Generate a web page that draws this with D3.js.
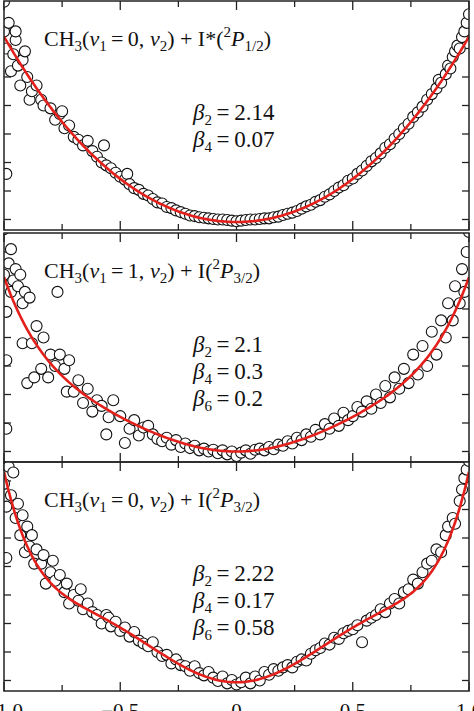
<!DOCTYPE html>
<html>
<head>
<meta charset="utf-8">
<script src="https://cdn.jsdelivr.net/npm/d3@7"></script>
<style>
  body { margin: 0; background: #fff; }
  text { font-family: "Liberation Serif", "Times New Roman", "DejaVu Serif", serif; }
</style>
</head>
<body>
<svg id="chart" width="474" height="711"></svg>
<script>
// x ticks (cos theta)
const xTicks = [-1, -0.5, 0, 0.5, 1];
const xTickLabels = ['\u22121.0', '\u22120.5', '0', '0.5', '1.0'];

// fit parameters per panel
const betas1 = [2.14, 0.07, 0];
const betas2 = [2.1, 0.3, 0.2];
const betas3 = [2.22, 0.17, 0.58];
const scales = [1.0, 0.85, 0.88];
const baselines = [0, 0, 0.17];

// measured points [cos theta, intensity]
const points1 = [
  [-1.0,3.82],[-1.0,3.3],[-0.99,3.0],[-0.99,0.8],[-0.98,3.45],[-0.97,2.6],[-0.96,2.9],[-0.95,3.15],[-0.95,3.3],
  [-0.94,2.7],[-0.93,2.35],[-0.92,2.8],[-0.91,2.95],[-0.9,2.5],[-0.89,2.1],[-0.88,2.25],[-0.86,2.35],[-0.84,2.1],
  [-0.83,2.0],[-0.8,1.95],[-0.78,1.75],[-0.76,1.85],[-0.75,1.9],[-0.74,1.6],[-0.72,1.65],[-0.7,1.45],[-0.68,1.4],
  [-0.66,1.3],[-0.64,1.38],[-0.62,1.2],[-0.6,1.1],[-0.58,1.0],[-0.57,1.3],[-0.56,0.95],[-0.54,0.9],[-0.52,0.82],
  [-0.5,0.75],[-0.48,0.7],[-0.47,0.8],[-0.46,0.62],[-0.44,0.55],[-0.42,0.52],[-0.4,0.45],[-0.38,0.42],[-0.36,0.36],
  [-0.34,0.3],[-0.32,0.28],[-0.3,0.22],[-0.28,0.2],[-0.26,0.16],[-0.24,0.13],[-0.22,0.1],[-0.2,0.07],[-0.18,0.06],
  [-0.16,0.04],[-0.14,0.03],[-0.12,0.02],[-0.1,0.01],[-0.08,0.0],[-0.06,0.0],[-0.04,-0.01],[-0.02,-0.02],[0,-0.03],
  [0.02,-0.02],[0.04,-0.01],[0.06,0.0],[0.08,0.0],[0.1,0.01],[0.12,0.02],[0.14,0.02],[0.16,0.04],[0.18,0.05],
  [0.2,0.08],[0.22,0.1],[0.24,0.12],[0.26,0.15],[0.28,0.19],[0.3,0.23],[0.32,0.26],[0.34,0.31],[0.36,0.34],
  [0.38,0.4],[0.4,0.44],[0.42,0.5],[0.44,0.56],[0.46,0.6],[0.48,0.68],[0.5,0.72],[0.52,0.8],[0.54,0.86],
  [0.56,0.94],[0.58,1.02],[0.6,1.08],[0.62,1.16],[0.64,1.26],[0.66,1.32],[0.68,1.42],[0.7,1.5],[0.72,1.6],
  [0.74,1.68],[0.76,1.8],[0.78,1.88],[0.8,1.98],[0.82,2.1],[0.84,2.2],[0.86,2.3],[0.87,2.45],[0.88,2.4],
  [0.9,2.55],[0.91,2.7],[0.92,2.65],[0.93,2.85],[0.94,2.95],[0.95,3.05],[0.96,3.0],[0.97,3.2],[0.98,3.3],[0.99,3.45],[1.0,3.6]
];
const points2 = [
  [-1.0,3.9],[-1.0,3.1],[-0.99,2.45],[-0.99,1.6],[-0.99,0.4],[-0.98,3.3],[-0.97,3.55],[-0.97,2.8],[-0.96,3.0],
  [-0.95,3.2],[-0.94,2.9],[-0.93,3.1],[-0.92,2.6],[-0.92,1.9],[-0.91,2.8],[-0.9,1.2],[-0.89,2.7],[-0.88,1.9],
  [-0.87,1.3],[-0.86,2.2],[-0.84,1.45],[-0.83,2.0],[-0.81,1.3],[-0.8,1.7],[-0.78,1.5],[-0.77,2.8],[-0.76,1.7],
  [-0.74,1.45],[-0.73,1.05],[-0.72,1.6],[-0.7,1.05],[-0.68,1.25],[-0.66,0.85],[-0.64,1.1],[-0.62,0.7],[-0.6,0.9],
  [-0.58,0.8],[-0.56,0.3],[-0.55,0.6],[-0.53,0.9],[-0.5,0.62],[-0.48,0.15],[-0.46,0.4],[-0.44,0.55],[-0.42,0.28],
  [-0.4,0.42],[-0.38,0.45],[-0.36,0.3],[-0.34,0.22],[-0.32,0.18],[-0.3,0.24],[-0.28,0.12],[-0.26,0.2],[-0.24,0.08],
  [-0.22,0.14],[-0.2,0.06],[-0.18,0.1],[-0.16,0.02],[-0.14,0.05],[-0.12,0.0],[-0.1,0.03],[-0.08,-0.03],[-0.06,0.02],
  [-0.04,-0.05],[-0.02,0.0],[0,-0.08],[0.02,-0.02],[0.04,0.02],[0.06,-0.04],[0.08,0.03],[0.1,0.05],[0.12,0.02],
  [0.14,0.08],[0.16,0.04],[0.18,0.12],[0.2,0.1],[0.22,0.18],[0.24,0.14],[0.26,0.24],[0.28,0.2],[0.3,0.3],
  [0.32,0.26],[0.34,0.38],[0.36,0.3],[0.38,0.48],[0.4,0.4],[0.42,0.58],[0.44,0.45],[0.46,0.68],[0.48,0.55],
  [0.5,0.62],[0.52,0.78],[0.54,0.7],[0.56,0.88],[0.58,0.75],[0.6,1.0],[0.62,0.85],[0.64,1.15],[0.66,0.95],
  [0.68,1.3],[0.7,1.1],[0.72,1.45],[0.74,1.2],[0.76,1.7],[0.78,1.35],[0.8,1.85],[0.82,1.5],[0.84,2.1],
  [0.86,1.7],[0.88,2.3],[0.9,2.0],[0.91,2.6],[0.93,2.3],[0.94,2.9],[0.96,2.6],[0.97,3.2],[0.98,2.8],[0.99,3.5],[1.0,3.85]
];
const points3 = [
  [-1.0,3.9],[-1.0,3.45],[-0.99,3.05],[-0.99,2.15],[-0.98,3.75],[-0.97,3.25],[-0.96,3.65],[-0.95,2.85],[-0.94,3.1],
  [-0.93,2.55],[-0.92,2.9],[-0.91,2.25],[-0.9,2.7],[-0.89,2.35],[-0.88,2.55],[-0.87,2.05],[-0.86,2.3],[-0.84,2.05],
  [-0.83,2.2],[-0.82,1.7],[-0.8,1.9],[-0.79,2.1],[-0.78,1.75],[-0.76,1.85],[-0.74,1.55],[-0.73,1.7],[-0.72,1.35],
  [-0.7,1.5],[-0.68,1.4],[-0.67,1.6],[-0.66,1.25],[-0.64,1.35],[-0.62,1.2],[-0.6,1.15],[-0.58,1.0],[-0.56,1.15],
  [-0.55,1.1],[-0.54,0.95],[-0.52,1.03],[-0.5,0.87],[-0.48,0.93],[-0.46,0.77],[-0.44,0.85],[-0.42,0.7],[-0.4,0.65],
  [-0.38,0.6],[-0.36,0.67],[-0.34,0.5],[-0.32,0.43],[-0.3,0.45],[-0.28,0.3],[-0.26,0.37],[-0.24,0.27],[-0.22,0.25],
  [-0.2,0.17],[-0.18,0.25],[-0.16,0.13],[-0.14,0.09],[-0.12,0.15],[-0.1,0.05],[-0.08,-0.01],[-0.06,0.07],[-0.04,-0.05],
  [-0.02,0.01],[0,-0.07],[0.02,-0.03],[0.04,0.05],[0.06,-0.05],[0.08,0.07],[0.1,0.0],[0.12,0.15],[0.14,0.1],
  [0.16,0.2],[0.18,0.17],[0.2,0.23],[0.22,0.27],[0.24,0.23],[0.26,0.33],[0.28,0.37],[0.3,0.35],[0.32,0.47],
  [0.34,0.53],[0.36,0.57],[0.38,0.65],[0.4,0.63],[0.42,0.75],[0.44,0.73],[0.46,0.83],[0.48,0.87],[0.5,0.9],
  [0.52,0.97],[0.54,0.67],[0.56,1.05],[0.58,1.1],[0.6,1.15],[0.62,1.25],[0.64,1.2],[0.66,1.35],[0.68,1.43],
  [0.7,1.35],[0.72,1.55],[0.74,1.6],[0.76,1.77],[0.78,1.7],[0.8,1.9],[0.82,2.05],[0.84,2.1],[0.86,2.3],
  [0.88,2.25],[0.9,2.55],[0.91,2.7],[0.93,2.85],[0.94,2.75],[0.96,3.15],[0.97,3.35],[0.98,3.55],[0.99,3.7],[1.0,3.85]
];

const svg = d3.select('#chart');
const xLeft = 4, xRight = 469;
const panelTops = [1, 233, 462];
const panelH = 229;
const red = '#e3201b';

const x = d3.scaleLinear().domain([-1, 1]).range([xLeft, xRight]);

function legendre(n, c) {
  const c2 = c * c;
  if (n === 2) return (3 * c2 - 1) / 2;
  if (n === 4) return (35 * c2 * c2 - 30 * c2 + 3) / 8;
  return (231 * c2 * c2 * c2 - 315 * c2 * c2 + 105 * c2 - 5) / 16;
}

const panels = [
  {pts: points1, betas: betas1, level: '0', state: 'I*', j: '1/2',
   lines: [['2', '2.14'], ['4', '0.07']]},
  {pts: points2, betas: betas2, level: '1', state: 'I', j: '3/2',
   lines: [['2', '2.1'], ['4', '0.3'], ['6', '0.2']]},
  {pts: points3, betas: betas3, level: '0', state: 'I', j: '3/2',
   lines: [['2', '2.22'], ['4', '0.17'], ['6', '0.58']]}
];

panels.forEach((p, i) => {
  const top = panelTops[i], bottom = top + panelH;
  // zero sits ~10.5 px above the panel bottom, 0.5 units per 28.5 px
  const y = d3.scaleLinear().domain([0, 1]).range([bottom - 10.5, bottom - 10.5 - 57]);
  const g = svg.append('g');

  const clipId = 'clip' + i;
  svg.append('clipPath').attr('id', clipId).append('rect')
    .attr('x', xLeft).attr('y', top).attr('width', xRight - xLeft).attr('height', panelH);

  // y ticks, both sides, inward
  d3.range(0, 4.0, 0.5).forEach(v => {
    const yy = y(v);
    if (yy < top + 4) return;
    g.append('line').attr('x1', xLeft).attr('x2', xLeft + 7).attr('y1', yy).attr('y2', yy)
      .attr('stroke', '#222').attr('stroke-width', 1.3);
    g.append('line').attr('x1', xRight - 7).attr('x2', xRight).attr('y1', yy).attr('y2', yy)
      .attr('stroke', '#222').attr('stroke-width', 1.3);
  });
  // x ticks on top and bottom
  d3.range(-1, 1.01, 0.25).forEach(v => {
    const len = Math.abs(v * 2 - Math.round(v * 2)) < 1e-6 ? 9 : 6;
    g.append('line').attr('x1', x(v)).attr('x2', x(v)).attr('y1', bottom).attr('y2', bottom - len)
      .attr('stroke', '#222').attr('stroke-width', 1.3);
    g.append('line').attr('x1', x(v)).attr('x2', x(v)).attr('y1', top).attr('y2', top + len)
      .attr('stroke', '#222').attr('stroke-width', 1.3);
  });

  // points
  g.append('g').attr('clip-path', `url(#${clipId})`).selectAll('circle').data(p.pts).join('circle')
    .attr('cx', d => x(d[0])).attr('cy', d => y(d[1])).attr('r', 5.5)
    .attr('fill', '#fff').attr('stroke', '#111').attr('stroke-width', 1.1);

  // fit curve
  const fit = d3.range(-1, 1.0001, 0.01).map(c =>
    [c, baselines[i] + scales[i] * (1 + p.betas[0] * legendre(2, c) + p.betas[1] * legendre(4, c) + p.betas[2] * legendre(6, c))]);
  g.append('path').datum(fit).attr('clip-path', `url(#${clipId})`)
    .attr('d', d3.line().x(d => x(d[0])).y(d => y(d[1])))
    .attr('fill', 'none').attr('stroke', red).attr('stroke-width', 2.6);

  // panel frame
  g.append('rect').attr('x', xLeft).attr('y', top).attr('width', xRight - xLeft).attr('height', panelH)
    .attr('fill', 'none').attr('stroke', '#222').attr('stroke-width', 1.5);

  // state label
  const lab = g.append('text').attr('x', 44).attr('y', top + 45).attr('font-size', 22).attr('fill', '#111');
  lab.append('tspan').text('CH');
  lab.append('tspan').attr('font-size', 15).attr('dy', 5).text('3');
  lab.append('tspan').attr('dy', -5).text('(');
  lab.append('tspan').attr('font-style', 'italic').text('\u03bd');
  lab.append('tspan').attr('font-size', 15).attr('dy', 5).text('1');
  lab.append('tspan').attr('dy', -5).text('\u2009=\u2009' + p.level + ', ');
  lab.append('tspan').attr('font-style', 'italic').text('\u03bd');
  lab.append('tspan').attr('font-size', 15).attr('dy', 5).text('2');
  lab.append('tspan').attr('dy', -5).text(') + ' + p.state + '(');
  lab.append('tspan').attr('font-size', 15).attr('dy', -9).text('2');
  lab.append('tspan').attr('dy', 9).attr('font-style', 'italic').text('P');
  lab.append('tspan').attr('font-size', 15).attr('dy', 5).text(p.j);
  lab.append('tspan').attr('dy', -5).text(')');

  // beta values
  p.lines.forEach((l, k) => {
    const t = g.append('text').attr('x', 193).attr('y', top + 119 + k * 27).attr('font-size', 23).attr('fill', '#111');
    t.append('tspan').attr('font-style', 'italic').text('\u03b2');
    t.append('tspan').attr('font-size', 15).attr('dy', 5).text(l[0]);
    t.append('tspan').attr('dy', -5).text('\u2009=\u2009' + l[1]);
  });
});

// bottom tick labels (partly cut off by the window, as in the source)
const bottomY = panelTops[2] + panelH;
svg.append('g').selectAll('text').data(xTicks).join('text')
  .attr('x', d => x(d)).attr('y', bottomY + 27).attr('text-anchor', 'middle')
  .attr('font-size', 21).attr('fill', '#111')
  .text((d, i) => xTickLabels[i]);
</script>
</body>
</html>
